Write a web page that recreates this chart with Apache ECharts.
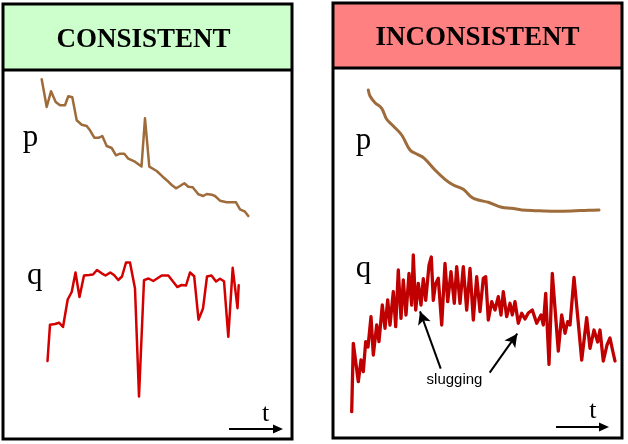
<!DOCTYPE html>
<html>
<head>
<meta charset="utf-8">
<script src="https://cdn.jsdelivr.net/npm/echarts@6/dist/echarts.min.js"></script>
<style>
  html, body { margin: 0; padding: 0; background: #fff; }
  #chart { width: 628px; height: 444px; }
</style>
</head>
<body>
<div id="chart"></div>
<script>
// consistent well: pressure p(t) and rate q(t)
const consPT = [1.7, 6.7, 11, 15.7, 20, 25, 28.3, 32.3, 36.7, 41.7, 46.7, 50, 54.3, 59, 62.3, 66.7, 71.7, 76, 80, 84.3, 88.3, 94.3, 101.5, 105, 109.3, 116.7, 122.7, 127.3, 131.7, 136, 140, 144.3, 148.3, 152.7, 158.3, 163.3, 166.7, 171.7, 175, 180, 186.7, 196, 200, 205, 208.3]
const consP = [138.7, 111, 126.7, 116, 112.7, 112.7, 121.7, 120.7, 97.7, 93.3, 92, 87.7, 80.3, 80.3, 82, 72, 70, 62.7, 64.3, 64.3, 59.3, 56.7, 51.5, 99.7, 51.3, 47, 41.3, 37.3, 33, 29.7, 32, 34.7, 31.3, 30.7, 23.7, 22, 24, 23.3, 22, 17.3, 15.7, 15.7, 8.7, 6.3, 2]

const consQT = [7.5, 10, 15, 19, 23, 27.7, 31.7, 35.5, 39.5, 44, 49, 53, 57, 61.7, 65.5, 70.3, 74, 78.3, 82, 86, 90, 95, 99, 104, 108.5, 113.3, 121.7, 128.3, 137.3, 141.7, 146, 150, 154.2, 158.5, 163, 167, 171.5, 176, 180, 184, 188.3, 192.7, 197.5, 198.7]
const consQ = [37, 73.3, 74, 75.3, 71, 98.5, 106, 125.5, 101, 122.5, 123, 123.5, 128, 124.7, 122.5, 125.5, 123, 118, 121.5, 135.5, 135.5, 109.5, 1.5, 117.8, 119.5, 117, 122.5, 122.5, 111, 113, 112.5, 125.5, 121.7, 78.3, 89.5, 121.5, 122.5, 116.5, 119.2, 116.8, 61.2, 130.2, 89.8, 112.8]

// inconsistent well
const inconPT = [3.3, 5, 10, 16.7, 21.7, 28.3, 36.7, 45, 51.7, 59.3, 70, 80, 88.3, 98.3, 106.7, 113.3, 123.3, 136.7, 146.7, 156.7, 170, 190, 206.7, 223.3, 234]
const inconP = [123, 117, 110.3, 104.7, 93.7, 87, 78, 63, 59, 54.7, 43, 33.7, 28, 23.7, 15.7, 13, 10.7, 5.7, 4.7, 3, 2.3, 1.7, 2, 2.7, 3]

const inconQT = [1.7, 3.3, 8.3, 11, 13.3, 15.7, 18, 21, 23.3, 26.7, 29, 32.3, 35, 37.7, 40, 43.3, 45.7, 48.3, 51, 53.3, 56, 59, 61.7, 63.3, 65.7, 68.3, 71, 73.3, 75.7, 79, 81.3, 83.3, 85.5, 88.3, 91.7, 95, 97.7, 101, 104.3, 106.7, 110, 113.3, 116.7, 120, 123.3, 126.7, 130, 133.3, 135.7, 138.3, 141.7, 145, 148.3, 151, 153.3, 156.7, 160, 162.3, 165, 168.3, 171.7, 175, 178.3, 182.3, 186.7, 191, 193.3, 195.7, 199, 202.3, 208.3, 211.7, 215, 217.7, 220, 224, 227.7, 231.7, 236.7, 240, 244, 247.7, 250, 253.3, 257, 260, 262.5, 265]
const inconQ = [3.3, 71.7, 33.3, 55, 43.3, 73.3, 68, 98.3, 60, 90, 73.3, 110, 86.7, 115, 90, 123.3, 88.3, 145, 96.7, 135, 100, 141.7, 110, 160, 105, 131.7, 110, 136.3, 114.7, 149.7, 158, 114.7, 131, 136.7, 90, 151.7, 113.3, 143.3, 111.7, 148.3, 111.7, 148.3, 105, 146.7, 95, 138.3, 103.3, 136.7, 138.3, 95, 113.3, 105, 118.3, 100, 123.3, 98.3, 111.7, 100, 113.3, 91.7, 101.7, 96, 102, 105, 91.7, 100, 90, 121.7, 50.7, 141.7, 64, 100, 81.7, 93.3, 90, 137.7, 98.3, 55, 97.3, 66.7, 85, 73, 85, 54, 70, 77, 65, 54]

// "slugging" arrows: [tail, head] in (t, q) of the inconsistent rate plot
const slugArrows = [
    [[90.7, 46.3], [70, 103.7]],
    [[139.7, 42.3], [167.3, 81.3]]
]

const pair = (t, v) => t.map((x, i) => [x, v[i]])

const chart = echarts.init(document.getElementById('chart'), null, {renderer: 'canvas'})

const hiddenAxis = (idx, max) => ({gridIndex: idx, type: 'value', min: 0, max: max, show: false})

const lineSeries = (idx, data, color, width, smooth) => ({
    type: 'line',
    xAxisIndex: idx,
    yAxisIndex: idx,
    data: data,
    showSymbol: false,
    smooth: smooth || false,
    clip: false,
    silent: true,
    lineStyle: {color: color, width: width, join: 'round', cap: 'round'},
    animation: false
})

const serif = '"Liberation Serif", "Times New Roman", serif'

const txt = (text, x, y, font) => ({
    type: 'text',
    z: 10,
    style: {text: text, x: x, y: y, font: font, fill: '#000', textAlign: 'center', textVerticalAlign: 'middle'}
})

const tArrow = (x1, x2, y) => ([
    {type: 'line', z: 10, shape: {x1: x1, y1: y, x2: x2 - 8, y2: y}, style: {stroke: '#000', lineWidth: 2}},
    {type: 'polygon', z: 10, shape: {points: [[x2 - 10, y - 4.5], [x2, y], [x2 - 10, y + 4.5]]}, style: {fill: '#000'}}
])

const rateSeries = lineSeries(3, pair(inconQT, inconQ), '#C00000', 3.3)
rateSeries.markLine = {
    silent: true,
    animation: false,
    symbol: ['none', 'arrow'],
    symbolSize: [10, 13],
    label: {show: false},
    lineStyle: {color: '#000', width: 2, type: 'solid'},
    data: slugArrows.map(a => [{coord: a[0]}, {coord: a[1]}])
}

const option = {
    backgroundColor: '#fff',
    animation: false,
    grid: [
        {left: 40, top: 78, width: 210, height: 140},
        {left: 40, top: 258, width: 210, height: 140},
        {left: 365, top: 88, width: 250, height: 125},
        {left: 350, top: 250, width: 270, height: 165}
    ],
    xAxis: [hiddenAxis(0, 210), hiddenAxis(1, 210), hiddenAxis(2, 250), hiddenAxis(3, 270)],
    yAxis: [hiddenAxis(0, 140), hiddenAxis(1, 140), hiddenAxis(2, 125), hiddenAxis(3, 165)],
    series: [
        lineSeries(0, pair(consPT, consP), '#9E6B3B', 2.5),
        lineSeries(1, pair(consQT, consQ), '#D40000', 2.5),
        lineSeries(2, pair(inconPT, inconP), '#9E6B3B', 3, 0.35),
        rateSeries
    ],
    graphic: [
        // headers
        {type: 'rect', z: 1, shape: {x: 3, y: 4, width: 289, height: 66}, style: {fill: '#CCFFCC'}},
        {type: 'rect', z: 1, shape: {x: 333, y: 3, width: 289, height: 65}, style: {fill: '#FF8080'}},
        // frames
        {type: 'rect', z: 10, shape: {x: 3, y: 4, width: 289, height: 435}, style: {fill: 'none', stroke: '#000', lineWidth: 3}},
        {type: 'line', z: 10, shape: {x1: 3, y1: 70, x2: 292, y2: 70}, style: {stroke: '#000', lineWidth: 3}},
        {type: 'rect', z: 10, shape: {x: 333, y: 3, width: 289, height: 435}, style: {fill: 'none', stroke: '#000', lineWidth: 3}},
        {type: 'line', z: 10, shape: {x1: 333, y1: 68, x2: 622, y2: 68}, style: {stroke: '#000', lineWidth: 3}},
        txt('CONSISTENT', 143.5, 40, 'bold 27px ' + serif),
        txt('INCONSISTENT', 477.5, 38, 'bold 27px ' + serif),
        txt('p', 30.5, 138, '31px ' + serif),
        txt('q', 34.7, 276, '31px ' + serif),
        txt('p', 363.5, 141, '31px ' + serif),
        txt('q', 363.5, 269, '31px ' + serif),
        txt('t', 265.5, 414, '26px ' + serif),
        txt('t', 592.8, 411, '26px ' + serif),
        txt('slugging', 454.5, 380, '15px "Liberation Sans", Arial, sans-serif'),
        ...tArrow(229, 283, 429),
        ...tArrow(556, 609, 427)
    ]
}

chart.setOption(option)
</script>
</body>
</html>
